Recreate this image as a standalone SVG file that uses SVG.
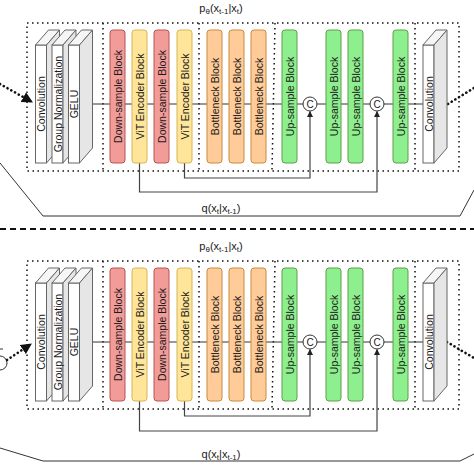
<svg xmlns="http://www.w3.org/2000/svg" width="474" height="474" viewBox="0 0 474 474">
<style>
text{font-family:"Liberation Sans",Arial,sans-serif;font-size:10.5px;fill:#1a1a1a}
.lbl{text-anchor:middle;dominant-baseline:central}
.pq{font-size:11px}
.sub{font-size:8px}
.cl{font-size:10px}
.box{fill:none;stroke:#111;stroke-width:1.5;stroke-dasharray:1.5 3.5}
.sep{fill:none;stroke:#111;stroke-width:2;stroke-dasharray:6 4}
.ln{fill:none;stroke:#333;stroke-width:1}
.sk{fill:none;stroke:#444;stroke-width:1.2}
.dot{fill:none;stroke:#111;stroke-width:2.6;stroke-linecap:round;stroke-dasharray:0.1 4.2}
.front{fill:#fff;stroke:#666;stroke-width:1}
.top{fill:#f6f6f6;stroke:#666;stroke-width:1}
.side{fill:#e6e6e6;stroke:#666;stroke-width:1}
.ds{fill:#f19c99;stroke:#b85450;stroke-width:1}
.vit{fill:#ffe599;stroke:#d6b656;stroke-width:1}
.bn{fill:#ffcc99;stroke:#c98a3c;stroke-width:1}
.up{fill:#8eef8e;stroke:#5f9e4a;stroke-width:1}
.cc{fill:#fff;stroke:#333;stroke-width:1}
</style>
<defs>
<marker id="ah" viewBox="0 0 10 10" refX="9" refY="5" markerWidth="6" markerHeight="6" orient="auto" markerUnits="userSpaceOnUse"><path d="M0,0 L10,5 L0,10 z" fill="#222"/></marker>
<marker id="ahb" viewBox="0 0 10 10" refX="9" refY="5" markerWidth="11" markerHeight="11" orient="auto" markerUnits="userSpaceOnUse"><path d="M0,0 L10,5 L0,10 z" fill="#111"/></marker>
</defs>

<line class="sep" x1="0" y1="229" x2="474" y2="229"/>

<!-- ============ TOP PANEL ============ -->
<g id="top-frames">
<rect class="box" x="27" y="23" width="432" height="148"/>
<line class="box" x1="103" y1="23" x2="103" y2="171"/>
<line class="box" x1="199" y1="23" x2="199" y2="171"/>
<line class="box" x1="275" y1="23" x2="272" y2="171"/>
<line class="box" x1="415" y1="23" x2="415" y2="171"/>
</g>
<text id="top-p" class="pq" x="221" y="12" text-anchor="middle">p<tspan class="sub" dy="2">θ</tspan><tspan dy="-2">(x</tspan><tspan class="sub" dy="2">t-1</tspan><tspan dy="-2">|x</tspan><tspan class="sub" dy="2">t</tspan><tspan dy="-2">)</tspan></text>
<text id="top-q" class="pq" x="221" y="212" text-anchor="middle">q(x<tspan class="sub" dy="2">t</tspan><tspan dy="-2">|x</tspan><tspan class="sub" dy="2">t-1</tspan><tspan dy="-2">)</tspan></text>

<g id="top-connectors">
<line class="ln" x1="92" y1="104" x2="423" y2="104"/>
<polyline class="sk" points="184.5,163 184.5,178 310,178 310,111.5" marker-end="url(#ah)"/>
<polyline class="sk" points="139.5,163 139.5,192 377,192 377,111.5" marker-end="url(#ah)"/>
<polyline class="ln" points="0,163 43,216 460,216 474,190"/>
<path class="dot" d="M0,84 L32,102" marker-end="url(#ahb)"/>
<path class="dot" d="M448,104 L474,88"/>
</g>

<g id="top-conv-in">
<rect class="front" x="35.5" y="45" width="11" height="118"/>
<polygon class="top" points="35.5,45 48.5,30 59.5,30 46.5,45"/>
<polygon class="side" points="46.5,45 59.5,30 59.5,148 46.5,163"/>
<text class="lbl" transform="translate(41,104) rotate(-90)">Convolution</text>
</g>
<g id="top-groupnorm">
<rect class="front" x="52" y="45" width="11" height="118"/>
<polygon class="top" points="52,45 65,30 76,30 63,45"/>
<polygon class="side" points="63,45 76,30 76,148 63,163"/>
<text class="lbl" transform="translate(57.5,104) rotate(-90)">Group Normalization</text>
</g>
<g id="top-gelu">
<rect class="front" x="68.5" y="45" width="11" height="118"/>
<polygon class="top" points="68.5,45 81.5,30 92.5,30 79.5,45"/>
<polygon class="side" points="79.5,45 92.5,30 92.5,148 79.5,163"/>
<text class="lbl" transform="translate(74,104) rotate(-90)">GELU</text>
</g>
<g id="top-ds1"><rect class="ds" x="110" y="30" width="15" height="133" rx="3"/><text class="lbl" transform="translate(117.5,96.5) rotate(-90)">Down-sample Block</text></g>
<g id="top-vit1"><rect class="vit" x="132" y="30" width="15" height="133" rx="3"/><text class="lbl" transform="translate(139.5,96.5) rotate(-90)">ViT Encoder Block</text></g>
<g id="top-ds2"><rect class="ds" x="154" y="30" width="15" height="133" rx="3"/><text class="lbl" transform="translate(161.5,96.5) rotate(-90)">Down-sample Block</text></g>
<g id="top-vit2"><rect class="vit" x="177" y="30" width="15" height="133" rx="3"/><text class="lbl" transform="translate(184.5,96.5) rotate(-90)">ViT Encoder Block</text></g>
<g id="top-bn1"><rect class="bn" x="207" y="30" width="15" height="133" rx="3"/><text class="lbl" transform="translate(214.5,96.5) rotate(-90)">Bottleneck Block</text></g>
<g id="top-bn2"><rect class="bn" x="229" y="30" width="15" height="133" rx="3"/><text class="lbl" transform="translate(236.5,96.5) rotate(-90)">Bottleneck Block</text></g>
<g id="top-bn3"><rect class="bn" x="251" y="30" width="15" height="133" rx="3"/><text class="lbl" transform="translate(258.5,96.5) rotate(-90)">Bottleneck Block</text></g>
<g id="top-up1"><rect class="up" x="282" y="30" width="15" height="133" rx="3"/><text class="lbl" transform="translate(289.5,96.5) rotate(-90)">Up-sample Block</text></g>
<g id="top-c1"><circle class="cc" cx="310" cy="104" r="7"/><text class="lbl cl" x="310" y="104.5">C</text></g>
<g id="top-up2"><rect class="up" x="326" y="30" width="15" height="133" rx="3"/><text class="lbl" transform="translate(333.5,96.5) rotate(-90)">Up-sample Block</text></g>
<g id="top-up3"><rect class="up" x="348" y="30" width="15" height="133" rx="3"/><text class="lbl" transform="translate(355.5,96.5) rotate(-90)">Up-sample Block</text></g>
<g id="top-c2"><circle class="cc" cx="377" cy="104" r="7"/><text class="lbl cl" x="377" y="104.5">C</text></g>
<g id="top-up4"><rect class="up" x="393" y="30" width="15" height="133" rx="3"/><text class="lbl" transform="translate(400.5,96.5) rotate(-90)">Up-sample Block</text></g>
<g id="top-conv-out">
<rect class="front" x="423" y="45" width="11" height="118"/>
<polygon class="top" points="423,45 436,30 447,30 434,45"/>
<polygon class="side" points="434,45 447,30 447,148 434,163"/>
<text class="lbl" transform="translate(428.5,104) rotate(-90)">Convolution</text>
</g>

<!-- ============ BOTTOM PANEL ============ -->
<g id="bot-frames">
<rect class="box" x="27" y="261" width="432" height="148"/>
<line class="box" x1="103" y1="261" x2="103" y2="409"/>
<line class="box" x1="199" y1="261" x2="199" y2="409"/>
<line class="box" x1="275" y1="261" x2="272" y2="409"/>
<line class="box" x1="415" y1="261" x2="415" y2="409"/>
</g>
<text id="bot-p" class="pq" x="221" y="250" text-anchor="middle">p<tspan class="sub" dy="2">θ</tspan><tspan dy="-2">(x</tspan><tspan class="sub" dy="2">t-1</tspan><tspan dy="-2">|x</tspan><tspan class="sub" dy="2">t</tspan><tspan dy="-2">)</tspan></text>
<text id="bot-q" class="pq" x="221" y="458" text-anchor="middle">q(x<tspan class="sub" dy="2">t</tspan><tspan dy="-2">|x</tspan><tspan class="sub" dy="2">t-1</tspan><tspan dy="-2">)</tspan></text>

<g id="bot-connectors">
<line class="ln" x1="92" y1="342" x2="423" y2="342"/>
<polyline class="sk" points="184.5,401 184.5,416 310,416 310,349.5" marker-end="url(#ah)"/>
<polyline class="sk" points="139.5,401 139.5,431 377,431 377,349.5" marker-end="url(#ah)"/>
<polyline class="ln" points="0,448 43,461 460,461 474,454"/>
<line class="ln" x1="0" y1="349" x2="3" y2="349"/>
<circle class="ln" cx="0" cy="363" r="7"/>
<path class="dot" d="M7,360 L31,344" marker-end="url(#ahb)"/>
<path class="dot" d="M447,342 L474,358"/>
</g>

<g id="bot-conv-in">
<rect class="front" x="35.5" y="283" width="11" height="118"/>
<polygon class="top" points="35.5,283 48.5,268 59.5,268 46.5,283"/>
<polygon class="side" points="46.5,283 59.5,268 59.5,386 46.5,401"/>
<text class="lbl" transform="translate(41,342) rotate(-90)">Convolution</text>
</g>
<g id="bot-groupnorm">
<rect class="front" x="52" y="283" width="11" height="118"/>
<polygon class="top" points="52,283 65,268 76,268 63,283"/>
<polygon class="side" points="63,283 76,268 76,386 63,401"/>
<text class="lbl" transform="translate(57.5,342) rotate(-90)">Group Normalization</text>
</g>
<g id="bot-gelu">
<rect class="front" x="68.5" y="283" width="11" height="118"/>
<polygon class="top" points="68.5,283 81.5,268 92.5,268 79.5,283"/>
<polygon class="side" points="79.5,283 92.5,268 92.5,386 79.5,401"/>
<text class="lbl" transform="translate(74,342) rotate(-90)">GELU</text>
</g>
<g id="bot-ds1"><rect class="ds" x="110" y="268" width="15" height="133" rx="3"/><text class="lbl" transform="translate(117.5,334.5) rotate(-90)">Down-sample Block</text></g>
<g id="bot-vit1"><rect class="vit" x="132" y="268" width="15" height="133" rx="3"/><text class="lbl" transform="translate(139.5,334.5) rotate(-90)">ViT Encoder Block</text></g>
<g id="bot-ds2"><rect class="ds" x="154" y="268" width="15" height="133" rx="3"/><text class="lbl" transform="translate(161.5,334.5) rotate(-90)">Down-sample Block</text></g>
<g id="bot-vit2"><rect class="vit" x="177" y="268" width="15" height="133" rx="3"/><text class="lbl" transform="translate(184.5,334.5) rotate(-90)">ViT Encoder Block</text></g>
<g id="bot-bn1"><rect class="bn" x="207" y="268" width="15" height="133" rx="3"/><text class="lbl" transform="translate(214.5,334.5) rotate(-90)">Bottleneck Block</text></g>
<g id="bot-bn2"><rect class="bn" x="229" y="268" width="15" height="133" rx="3"/><text class="lbl" transform="translate(236.5,334.5) rotate(-90)">Bottleneck Block</text></g>
<g id="bot-bn3"><rect class="bn" x="251" y="268" width="15" height="133" rx="3"/><text class="lbl" transform="translate(258.5,334.5) rotate(-90)">Bottleneck Block</text></g>
<g id="bot-up1"><rect class="up" x="282" y="268" width="15" height="133" rx="3"/><text class="lbl" transform="translate(289.5,334.5) rotate(-90)">Up-sample Block</text></g>
<g id="bot-c1"><circle class="cc" cx="310" cy="342" r="7"/><text class="lbl cl" x="310" y="342.5">C</text></g>
<g id="bot-up2"><rect class="up" x="326" y="268" width="15" height="133" rx="3"/><text class="lbl" transform="translate(333.5,334.5) rotate(-90)">Up-sample Block</text></g>
<g id="bot-up3"><rect class="up" x="348" y="268" width="15" height="133" rx="3"/><text class="lbl" transform="translate(355.5,334.5) rotate(-90)">Up-sample Block</text></g>
<g id="bot-c2"><circle class="cc" cx="377" cy="342" r="7"/><text class="lbl cl" x="377" y="342.5">C</text></g>
<g id="bot-up4"><rect class="up" x="393" y="268" width="15" height="133" rx="3"/><text class="lbl" transform="translate(400.5,334.5) rotate(-90)">Up-sample Block</text></g>
<g id="bot-conv-out">
<rect class="front" x="423" y="283" width="11" height="118"/>
<polygon class="top" points="423,283 436,268 447,268 434,283"/>
<polygon class="side" points="434,283 447,268 447,386 434,401"/>
<text class="lbl" transform="translate(428.5,342) rotate(-90)">Convolution</text>
</g>
</svg>
